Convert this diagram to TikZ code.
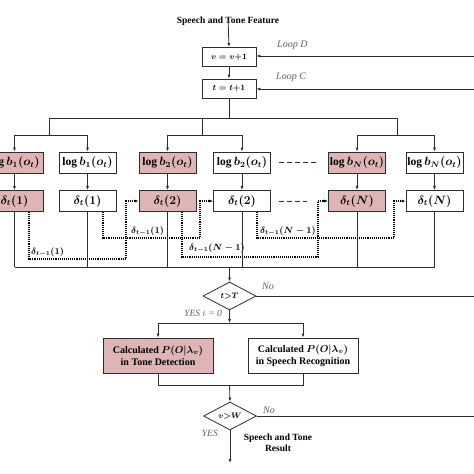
\documentclass[tikz,border=0pt]{standalone}
\usepackage{fontspec}
\setmainfont{Liberation Serif}
\usepackage{amsmath}
\usepackage{bm}
\usetikzlibrary{shapes.geometric,arrows.meta}
\definecolor{pinkc}{RGB}{222,180,180}
\definecolor{linec}{RGB}{45,45,45}
\definecolor{labc}{RGB}{95,95,95}
\tikzset{
  box/.style={draw=linec, line width=0.8pt, minimum width=57pt, minimum height=21pt, inner sep=0pt, font=\fontsize{11.5}{13}\selectfont\boldmath\bfseries},
  pbox/.style={box, fill=pinkc},
  sbox/.style={draw=linec, line width=0.8pt, minimum width=54pt, minimum height=19pt, inner sep=0pt, font=\fontsize{8.5}{10}\selectfont\boldmath\bfseries},
  cbox/.style={draw=linec, line width=0.8pt, minimum width=110pt, minimum height=35pt, inner sep=0pt, align=center, font=\fontsize{10}{12}\selectfont\boldmath\bfseries},
  dia/.style={diamond, draw=linec, line width=0.8pt, minimum width=53pt, minimum height=28pt, aspect=1.9, inner sep=0pt, font=\fontsize{8.5}{10}\selectfont\boldmath\bfseries\itshape},
  ln/.style={draw=linec, line width=0.8pt},
  arr/.style={ln, -{Latex[length=4pt,width=3pt]}},
  dotarr/.style={draw=black, line width=1.1pt, densely dotted, -{Latex[length=4pt,width=3pt]}},
  lab/.style={text=labc, font=\fontsize{10}{12}\selectfont\itshape, inner sep=0pt},
  dlab/.style={font=\fontsize{9}{11}\selectfont\boldmath, inner sep=0pt},
  ttl/.style={font=\fontsize{9.5}{11}\selectfont\bfseries, inner sep=0pt, align=center},
}
\begin{document}
\begin{tikzpicture}[x=1pt,y=-1pt]
\useasboundingbox (0,0) rectangle (474,474);
% title and counters
\node[ttl] (title) at (228,21) {Speech and Tone Feature};
\node[sbox] (vb) at (229,57) {$v=v{+}1$};
\node[sbox] (tb) at (229,88.5) {$t=t{+}1$};
\coordinate (rD) at (476,56);
\coordinate (rC) at (476,89);
\draw[arr] (title.south) ++(0,-8) -- (vb.north);
\draw[arr] (vb.south) -- (tb.north);
\draw[arr] (rD) -- (vb.east |- rD);
\draw[arr] (rC) -- (tb.east |- rC);
\node[lab, anchor=west] (lD) at (277,45) {Loop D};
\node[lab, anchor=west] (lC) at (276,77) {Loop C};
% row 1
\node[pbox] (pl1) at (14.5,162.5) {$\log b_1(o_t)$};
\node[box]  (wl1) at (87.5,162.5) {$\log b_1(o_t)$};
\node[pbox] (pl2) at (167.5,162.5) {$\log b_2(o_t)$};
\node[box]  (wl2) at (242,162.5) {$\log b_2(o_t)$};
\node[pbox] (plN) at (357,162.5) {$\log b_N(o_t)$};
\node[box]  (wlN) at (434.5,162.5) {$\log b_N(o_t)$};
% row 2
\node[pbox] (pd1) at (14.5,201) {$\delta_t(1)$};
\node[box]  (wd1) at (87.5,201) {$\delta_t(1)$};
\node[pbox] (pd2) at (167.5,201) {$\delta_t(2)$};
\node[box]  (wd2) at (242,201) {$\delta_t(2)$};
\node[pbox] (pdN) at (357,201) {$\delta_t(N)$};
\node[box]  (wdN) at (434.5,201) {$\delta_t(N)$};
% distribution tree
\coordinate (top) at (229,118);
\coordinate (b1) at (49,118);
\coordinate (b2) at (202,118);
\coordinate (b3) at (397,118);
\coordinate (s1) at (49,135);
\coordinate (s2) at (202,135);
\coordinate (s3) at (397,135);
\draw[ln] (tb.south) -- (top);
\draw[ln] (b1) -- (b3);
\draw[ln] (b1) -- (s1); \draw[ln] (b2) -- (s2); \draw[ln] (b3) -- (s3);
\draw[arr] (s1) -| (pl1.north); \draw[arr] (s1) -| (wl1.north);
\draw[arr] (s2) -| (pl2.north); \draw[arr] (s2) -| (wl2.north);
\draw[arr] (s3) -| (plN.north); \draw[arr] (s3) -| (wlN.north);
% row arrows
\foreach \a/\b in {pl1/pd1,wl1/wd1,pl2/pd2,wl2/wd2,plN/pdN,wlN/wdN}
  \draw[arr] (\a.south) -- (\b.north);
% dashes
\draw[ln, dashed, dash pattern=on 5pt off 3pt] ([xshift=8.5pt]wl2.east) -- ([xshift=-11.5pt]plN.west);
\draw[ln, dashed, dash pattern=on 5pt off 3pt] ([xshift=8.5pt]wd2.east) -- ([xshift=-21.5pt]pdN.west);
% dotted transfer paths
\coordinate (c1) at (126,259);
\coordinate (c2) at (200,238);
\coordinate (c3) at (318,257);
\coordinate (c4) at (394,238);
\draw[dotarr] ([xshift=14.5pt]pd1.south) |- (c1) |- (pd2.west);
\draw[dotarr] ([xshift=15.5pt]wd1.south) |- (c2) |- (wd2.west);
\draw[dotarr] ([xshift=14.5pt]pd2.south) |- (c3) |- (pdN.west);
\draw[dotarr] ([xshift=15pt]wd2.south) |- (c4) |- (wdN.west);
\node[dlab, anchor=west] (t1) at (31,252) {$\delta_{t-1}(1)$};
\node[dlab, anchor=west] (t2) at (131,231) {$\delta_{t-1}(1)$};
\node[dlab, anchor=west] (t3) at (189,248.5) {$\delta_{t-1}(N-1)$};
\node[dlab, anchor=west] (t4) at (260,231) {$\delta_{t-1}(N-1)$};
% collecting bar
\coordinate (cl) at (14.5,267);
\coordinate (cr) at (434.5,267);
\coordinate (cm) at (229.5,267);
\foreach \n in {pd1,wd1,pd2,wd2,pdN,wdN}
  \draw[ln] (\n.south) -- (\n.south |- cl);
\draw[ln] (cl) -- (cr);
% decision t>T
\node[dia] (d1) at (229.5,296) {$t{>}T$};
\draw[arr] (cm) -- (d1.north);
\coordinate (rN1) at (476,296);
\draw[ln] (d1.east) -- (rN1);
\node[lab, anchor=west] (no1) at (262,286) {No};
\node[lab, anchor=east, font=\fontsize{9.5}{11}\selectfont\itshape] (yes1) at (222,313) {YES $t$ = 0};
\coordinate (yb) at (229.5,323);
\node[cbox, fill=pinkc] (tone) at (158,355.5) {Calculated $P(O|\lambda_v)$\\ in Tone Detection};
\node[cbox] (speech) at (303,355.5) {Calculated $P(O|\lambda_v)$\\ in Speech Recognition};
\draw[arr] (d1.south) -- (yb);
\draw[ln] (tone.north |- yb) -- (speech.north |- yb);
\draw[arr] (yb) -| (tone.north);
\draw[arr] (yb) -| (speech.north);
\coordinate (jb) at (229.5,385);
\draw[ln] (tone.south) |- (jb);
\draw[ln] (speech.south) |- (jb);
% decision v>W
\node[dia] (d2) at (230,416) {$v{>}W$};
\draw[arr] (jb) -- (d2.north);
\coordinate (rN2) at (476,416);
\draw[ln] (d2.east) -- (rN2);
\node[lab, anchor=west] (no2) at (263,410) {No};
\node[lab, anchor=east, font=\fontsize{9.5}{11}\selectfont\itshape] (yes2) at (218,433) {YES};
\coordinate (out) at (230,463);
\draw[arr] (d2.south) -- (out);
\node[ttl] (res) at (278,442.5) {Speech and Tone\\ Result};
\end{tikzpicture}
\end{document}
